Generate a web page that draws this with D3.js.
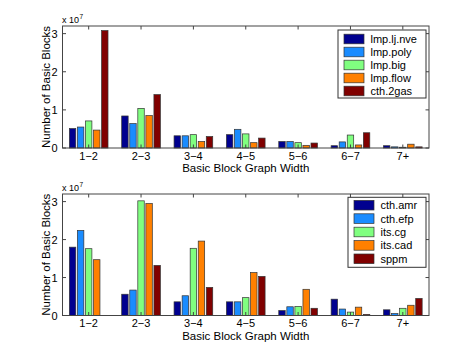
<!DOCTYPE html>
<html><head><meta charset="utf-8">
<script src="https://cdn.jsdelivr.net/npm/d3@7"></script>
<style>body{margin:0;background:#fff}svg{display:block}text{font-family:"Liberation Sans",Arial,sans-serif;fill:#000}</style>
</head><body>
<svg id="c" width="474" height="355"></svg>
<script>
const categories = ["1\u22122","2\u22123","3\u22124","4\u22125","5\u22126","6\u22127","7+"];
const yTicks = [0,1,2,3];
const colors = ["#00008f","#1a8cff","#80ff80","#ff8000","#800000"];

const topSeries = ["lmp.lj.nve","lmp.poly","lmp.big","lmp.flow","cth.2gas"];
const lmpLjNve = [0.51,0.84,0.32,0.35,0.17,0.06,0.06];
const lmpPoly  = [0.55,0.64,0.32,0.49,0.17,0.16,0.03];
const lmpBig   = [0.71,1.04,0.35,0.37,0.14,0.34,0.02];
const lmpFlow  = [0.47,0.85,0.17,0.14,0.07,0.08,0.10];
const cth2gas  = [3.08,1.40,0.30,0.26,0.13,0.40,0.03];

const bottomSeries = ["cth.amr","cth.efp","its.cg","its.cad","sppm"];
const cthAmr = [1.80,0.56,0.36,0.36,0.13,0.43,0.15];
const cthEfp = [2.24,0.67,0.52,0.36,0.23,0.17,0.05];
const itsCg  = [1.76,3.02,1.77,0.47,0.24,0.09,0.19];
const itsCad = [1.47,2.95,1.96,1.13,0.69,0.22,0.27];
const sppm   = [0.00,1.32,0.74,1.03,0.19,0.03,0.45];

const svg = d3.select("#c");
const L = 62.5, R = 429;

function panel(top, bottom, names, data, leg) {
  const g = svg.append("g");
  const x = d3.scaleLinear().domain([0.5, 7.5]).range([L, R]);
  const y = d3.scaleLinear().domain([0, 3.2]).range([bottom, top]);
  const pitch = Math.min(0.8, 5/6.5) / 5;
  const bw = pitch * 0.8;
  data.forEach((vals, j) => {
    g.selectAll(null).data(vals).enter().append("rect")
      .attr("x", (d,i) => x(i + 1 + (j - 2) * pitch - bw/2))
      .attr("width", x(bw) - x(0))
      .attr("y", d => y(d))
      .attr("height", d => y(0) - y(d))
      .attr("fill", colors[j])
      .attr("stroke", "#333").attr("stroke-width", 0.7)
      .attr("display", d => d > 0 ? null : "none");
  });
  // box
  g.append("rect").attr("x", L).attr("y", top).attr("width", R - L).attr("height", bottom - top)
    .attr("fill", "none").attr("stroke", "#444").attr("stroke-width", 1);
  const tl = 3.5;
  categories.forEach((c, i) => {
    const xp = x(i + 1);
    g.append("line").attr("x1", xp).attr("x2", xp).attr("y1", bottom).attr("y2", bottom - tl).attr("stroke", "#444");
    g.append("line").attr("x1", xp).attr("x2", xp).attr("y1", top).attr("y2", top + tl).attr("stroke", "#444");
    g.append("text").attr("x", xp).attr("y", bottom + 11.5).attr("text-anchor", "middle").attr("font-size", 11).text(c);
  });
  yTicks.forEach(t => {
    const yp = y(t);
    g.append("line").attr("x1", L).attr("x2", L + tl).attr("y1", yp).attr("y2", yp).attr("stroke", "#444");
    g.append("line").attr("x1", R).attr("x2", R - tl).attr("y1", yp).attr("y2", yp).attr("stroke", "#444");
    g.append("text").attr("x", L - 5).attr("y", yp + 4).attr("text-anchor", "end").attr("font-size", 11).text(t);
  });
  const ex = g.append("text").attr("x", L - 0.5).attr("y", top - 3).attr("font-size", 9);
  ex.append("tspan").text("x 10");
  ex.append("tspan").attr("dy", -4).attr("dx", 0.5).attr("font-size", 6.5).text("7");
  g.append("text").attr("x", (L + R) / 2).attr("y", bottom + 24).attr("text-anchor", "middle").attr("font-size", 11.5).text("Basic Block Graph Width");
  g.append("text").attr("transform", `translate(${50},${(top + bottom) / 2}) rotate(-90)`)
    .attr("text-anchor", "middle").attr("font-size", 11.5).text("Number of Basic Blocks");
  const lg = g.append("g");
  lg.append("rect").attr("x", leg.x).attr("y", leg.y).attr("width", leg.w).attr("height", leg.h)
    .attr("fill", "#fff").attr("stroke", "#333").attr("stroke-width", 1);
  names.forEach((n, j) => {
    const cy = leg.y + leg.first + j * leg.step;
    lg.append("rect").attr("x", leg.x + leg.sx).attr("y", cy - 4.8).attr("width", 20).attr("height", 9.6)
      .attr("fill", colors[j]).attr("stroke", "#333").attr("stroke-width", 0.7);
    lg.append("text").attr("x", leg.x + leg.sx + 26.5).attr("y", cy + 4).attr("font-size", 11).text(n);
  });
}

panel(26, 148, topSeries, [lmpLjNve, lmpPoly, lmpBig, lmpFlow, cth2gas], {x: 338, y: 30, w: 88, h: 68, sx: 6, first: 9, step: 13});
panel(194, 315.5, bottomSeries, [cthAmr, cthEfp, itsCg, itsCad, sppm], {x: 348, y: 197.3, w: 78, h: 70, sx: 6, first: 7.9, step: 13.4});
</script>
</body></html>
